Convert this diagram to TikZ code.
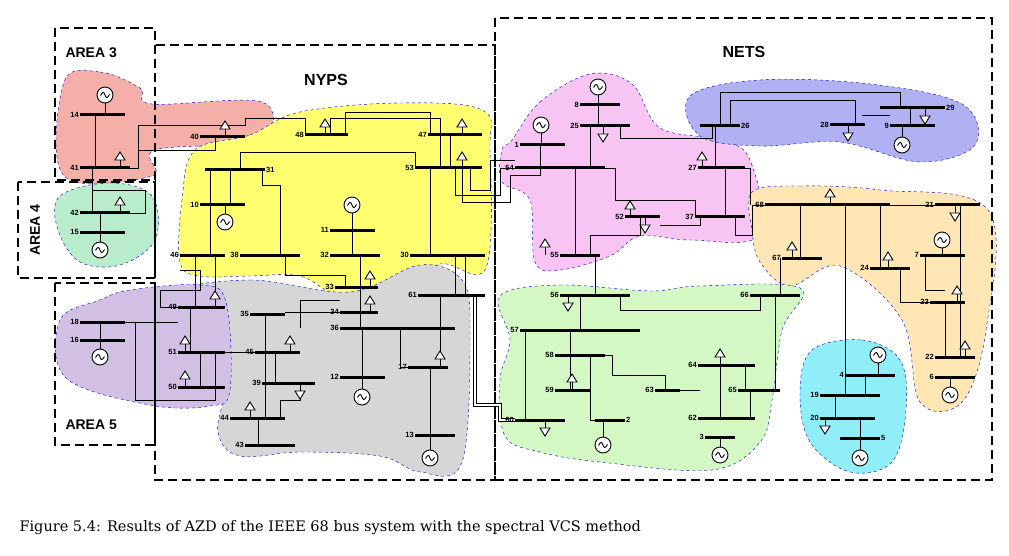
\documentclass[tikz,border=0pt]{standalone}
\usepackage{fontspec}
\newfontfamily\sansf{Liberation Sans}
\newfontfamily\capf{DejaVu Serif}
\begin{document}
\begin{tikzpicture}[x=1pt,y=-1pt,
 blob/.style={draw=blue!80!black,dashed,thin,fill=#1},
 area/.style={dashed,line width=1.6pt,dash pattern=on 9pt off 5pt},
 lbl/.style={font=\sansf\bfseries\fontsize{7.5}{8}\selectfont,inner sep=1pt},
 wire/.style={line width=0.9pt},
 bl/.style={line width=3pt}]
\useasboundingbox (0,0) rectangle (1009,556);
\newcommand\bs[4]{\draw[bl] (#1,#3)--(#2,#3); \node[lbl,anchor=east] at (#1,#3) {#4};}
\newcommand\bsr[4]{\draw[bl] (#1,#3)--(#2,#3); \node[lbl,anchor=west] at (#2,#3) {#4};}
\newcommand\gen[3]{\draw[wire] (#1,#3)--(#1,#2); \draw[wire,fill=white] (#1,#2) circle (8); \draw[wire] (#1-4.5,#2+0.5) .. controls (#1-2,#2-4) and (#1-1,#2-3) .. (#1,#2) .. controls (#1+1,#2+3) and (#1+2,#2+4) .. (#1+4.5,#2-0.5);}
\newcommand\lu[2]{\draw[wire] (#1,#2)--(#1,#2-8); \draw[wire,fill=white] (#1-5,#2-8)--(#1+5,#2-8)--(#1,#2-16)--cycle;}
\newcommand\ld[2]{\draw[wire] (#1,#2)--(#1,#2+8); \draw[wire,fill=white] (#1-5,#2+8)--(#1+5,#2+8)--(#1,#2+16)--cycle;}
\definecolor{cRed}{HTML}{F4B0A8}\definecolor{cYel}{HTML}{FFFF70}\definecolor{cGry}{HTML}{D6D6D6}
\definecolor{cVio}{HTML}{D2C0E4}\definecolor{cGrn}{HTML}{B8ECCB}\definecolor{cPnk}{HTML}{F8C4F4}
\definecolor{cBlu}{HTML}{B0B0F2}\definecolor{cOrg}{HTML}{FFE6B4}\definecolor{cLgr}{HTML}{D4F8C4}\definecolor{cCya}{HTML}{90EEF8}
% blobs
\draw[blob=cRed] plot[smooth cycle,tension=0.6] coordinates{(64,82)(100,72)(140,88)(152,104)(262,102)(258,140)(155,150)(152,176)(64,176)};
\draw[blob=cYel] plot[smooth cycle,tension=0.6] coordinates{(195,150)(250,135)(300,112)(400,103)(482,110)(490,150)(486,268)(440,264)(390,290)(340,296)(300,276)(250,276)(200,276)(180,262)(182,200)};
\draw[blob=cGry] plot[smooth cycle,tension=0.6] coordinates{(150,292)(250,280)(350,292)(420,265)(462,280)(470,330)(462,462)(420,472)(380,456)(300,452)(240,456)(218,432)(222,372)(165,302)};
\draw[blob=cVio] plot[smooth cycle,tension=0.6] coordinates{(130,290)(200,285)(226,302)(230,390)(210,406)(150,405)(66,378)(60,320)(100,300)};
\draw[blob=cGrn] plot[smooth cycle,tension=0.6] coordinates{(60,196)(110,183)(152,196)(155,240)(120,265)(80,262)(58,230)};
\draw[blob=cPnk] plot[smooth cycle,tension=0.6] coordinates{(512,140)(540,102)(590,74)(632,84)(660,128)(720,140)(750,160)(760,235)(690,240)(640,236)(610,256)(560,270)(535,262)(530,200)(502,182)(502,150)};
\draw[blob=cBlu] plot[smooth cycle,tension=0.6] coordinates{(690,96)(760,80)(870,84)(962,104)(975,145)(920,162)(840,142)(760,146)(700,136)};
\draw[blob=cOrg] plot[smooth cycle,tension=0.6] coordinates{(752,192)(800,186)(880,190)(988,210)(986,330)(962,402)(920,402)(902,320)(840,266)(790,286)(760,262)(752,230)};
\draw[blob=cLgr] plot[smooth cycle,tension=0.6] coordinates{(500,296)(560,285)(650,291)(700,286)(800,288)(782,330)(772,400)(760,442)(712,470)(600,462)(540,452)(505,436)(500,380)(510,340)};
\draw[blob=cCya] plot[smooth cycle,tension=0.6] coordinates{(812,350)(862,340)(900,360)(906,410)(892,462)(850,472)(810,442)(800,392)};
% area boxes
\draw[area] (55,28) rectangle (155,180);
\draw[area] (18,182) rectangle (155,278);
\draw[area] (55,283) rectangle (155,445);
\draw[area] (155,45) rectangle (495,480);
\draw[area] (495,18) rectangle (992,480);
\node[font=\sansf\bfseries\fontsize{14}{15}\selectfont,anchor=west] at (62,53) {AREA 3};
\node[font=\sansf\bfseries\fontsize{14}{15}\selectfont,rotate=90] at (35,230) {AREA 4};
\node[font=\sansf\bfseries\fontsize{14}{15}\selectfont,anchor=west] at (62,425) {AREA 5};
\node[font=\sansf\bfseries\fontsize{16}{17}\selectfont] at (326,80) {NYPS};
\node[font=\sansf\bfseries\fontsize{16}{17}\selectfont] at (744,52) {NETS};
% wires NYPS / west
\draw[wire] (95,115)--(95,168) (92,168)--(92,213) (100,213)--(100,232) (100,322)--(100,340);
\draw[wire] (130,168)--(138,168)--(138,125)--(245,125)--(245,118)--(305,118)--(305,135);
\draw[wire] (215,137)--(215,150)--(138,150);
\draw[wire] (330,135)--(330,118)--(440,118)--(440,135) (345,135)--(345,112)--(430,112)--(430,135);
\draw[wire] (440,135)--(440,168) (450,135)--(450,168);
\draw[wire] (455,168)--(455,195)--(500,195)--(500,168)--(515,168);
\draw[wire] (462,168)--(462,202)--(510,202)--(510,175)--(540,175)--(540,168);
\draw[wire] (470,168)--(470,190)--(490,190)--(490,160)--(515,160);
\draw[wire] (240,170)--(240,152)--(415,152)--(415,168);
\draw[wire] (230,170)--(230,205) (210,170)--(210,255) (262,170)--(262,185)--(280,185)--(280,255);
\draw[wire] (195,255)--(195,307) (215,255)--(215,295);
\draw[wire] (285,255)--(285,275)--(345,275)--(345,287) (352,230)--(352,255) (360,255)--(360,287);
\draw[wire] (430,168)--(430,255) (455,255)--(455,295) (465,255)--(465,295);
\draw[wire] (360,287)--(360,328) (440,295)--(440,328) (300,328)--(300,300)--(340,300) (265,314)--(265,352) (285,312)--(340,312);
\draw[wire] (440,328)--(440,367) (430,367)--(430,435) (362,328)--(362,377) (400,328)--(400,367)--(408,367);
\draw[wire] (225,352)--(255,352) (275,352)--(275,383) (265,352)--(265,418) (300,383)--(300,400)--(280,400)--(280,418) (258,418)--(258,445);
\draw[wire] (190,307)--(190,352) (200,352)--(200,387) (215,352)--(215,387) (125,322)--(178,322) (135,322)--(135,400)--(215,400)--(215,387);
\draw[wire] (130,213)--(145,213)--(145,190)--(92,190) (178,307)--(160,307)--(160,290)--(200,290)--(200,270)--(180,270);
\draw[wire,double,double distance=2pt] (475,295)--(475,405)--(500,405)--(500,420)--(515,420);
% NETS wires
\draw[wire] (598,105)--(598,126) (590,126)--(590,168) (540,145)--(540,168) (620,126)--(620,138)--(712,138)--(712,126);
\draw[wire] (715,126)--(715,168) (730,126)--(730,100)--(855,100)--(855,125) (720,126)--(720,92)--(900,92)--(900,108) (862,115)--(890,115) (910,108)--(910,126);
\draw[wire] (575,168)--(575,255) (725,168)--(725,217) (660,225)--(700,225)--(700,217) (735,217)--(735,235)--(752,235)--(752,205)--(765,205);
\draw[wire] (745,168)--(750,168)--(750,205) (890,205)--(935,205) (800,205)--(800,258) (845,205)--(845,395) (880,205)--(880,268) (780,258)--(780,295);
\draw[wire] (960,205)--(960,357) (900,268)--(900,302)--(930,302) (945,302)--(945,357) (925,255)--(925,290)--(945,290);
\draw[wire] (640,217)--(640,235)--(590,235)--(590,255) (595,255)--(595,295) (605,168)--(615,168)--(615,200)--(695,200)--(695,217);
\draw[wire] (580,295)--(580,330) (620,295)--(620,310)--(760,310)--(760,295) (525,330)--(525,420) (570,330)--(570,355) (570,355)--(570,390);
\draw[wire] (600,355)--(612,355)--(612,375)--(665,375)--(665,390) (590,355)--(590,420)--(600,420) (675,390)--(700,390);
\draw[wire] (745,365)--(745,390) (720,365)--(720,418) (750,390)--(750,418) (775,390)--(775,295) (835,395)--(835,418) (865,375)--(865,395) (860,418)--(860,438);
% buses
\bs{80}{125}{115}{14} \bs{80}{130}{168}{41} \bs{200}{245}{137}{40} \bs{305}{348}{135}{48}
\bs{428}{482}{135}{47} \bs{415}{482}{168}{53} \bsr{205}{265}{170}{31} \bs{200}{245}{205}{10}
\bs{330}{375}{230}{11} \bs{180}{225}{255}{46} \bs{240}{300}{255}{38} \bs{330}{380}{255}{32}
\bs{410}{485}{255}{30} \bs{335}{378}{287}{33} \bs{418}{485}{295}{61} \bs{340}{378}{312}{34}
\bs{340}{455}{328}{36} \bs{250}{285}{314}{35} \bs{255}{300}{352}{45} \bs{262}{315}{383}{39}
\bs{408}{448}{367}{17} \bs{340}{385}{377}{12} \bs{230}{285}{418}{44} \bs{245}{295}{445}{43}
\bs{415}{455}{435}{13} \bs{178}{225}{307}{49} \bs{178}{225}{352}{51} \bs{178}{225}{387}{50}
\bs{80}{125}{322}{18} \bs{80}{125}{340}{16} \bs{80}{130}{213}{42} \bs{80}{125}{232}{15}
\bs{580}{620}{105}{8} \bs{580}{630}{126}{25} \bs{520}{565}{145}{1} \bs{515}{605}{168}{54}
\bs{698}{745}{168}{27} \bsr{700}{740}{126}{26} \bs{830}{865}{125}{28} \bsr{880}{945}{108}{29}
\bs{890}{935}{126}{9} \bs{625}{660}{217}{52} \bs{695}{745}{217}{37} \bs{560}{600}{255}{55}
\bs{765}{890}{205}{68} \bs{935}{980}{205}{21} \bs{782}{822}{258}{67} \bs{870}{910}{268}{24}
\bs{920}{965}{255}{7} \bs{930}{965}{302}{23} \bs{935}{975}{357}{22} \bs{935}{975}{377}{6}
\bs{560}{630}{295}{56} \bs{750}{800}{295}{66} \bs{520}{640}{330}{57} \bs{555}{605}{355}{58}
\bs{555}{590}{390}{59} \bs{515}{565}{420}{60} \bsr{595}{625}{420}{2} \bs{655}{680}{390}{63}
\bs{698}{755}{365}{64} \bs{738}{780}{390}{65} \bs{698}{755}{418}{62} \bs{705}{735}{437}{3}
\bs{845}{895}{375}{4} \bs{820}{880}{395}{19} \bs{820}{875}{418}{20} \bsr{840}{880}{438}{5}
% generators
\gen{105}{95}{115} \gen{225}{222}{205} \gen{352}{205}{230} \gen{100}{357}{340} \gen{100}{250}{232}
\gen{362}{397}{377} \gen{430}{458}{435} \gen{598}{87}{105} \gen{541}{125}{145} \gen{902}{145}{126}
\gen{942}{240}{255} \gen{950}{395}{377} \gen{603}{445}{420} \gen{720}{455}{437} \gen{878}{355}{375} \gen{860}{458}{438}
% loads
\lu{120}{168} \lu{120}{213} \lu{225}{137} \lu{325}{135} \lu{462}{135} \lu{462}{168} \lu{215}{307} \lu{185}{352}
\lu{185}{387} \lu{290}{352} \lu{250}{418} \lu{370}{287} \lu{370}{312} \lu{440}{367} \lu{545}{255} \lu{702}{168}
\lu{830}{205} \lu{792}{258} \lu{888}{268} \lu{957}{302} \lu{965}{357} \lu{572}{390} \lu{720}{365} \lu{630}{217}
\ld{300}{383} \ld{603}{126} \ld{848}{125} \ld{925}{108} \ld{955}{205} \ld{645}{217} \ld{568}{295} \ld{545}{420} \ld{825}{418}
\node[anchor=west,font=\capf\fontsize{14.5}{17}\selectfont] at (16,528) {Figure 5.4: Results of AZD of the IEEE 68 bus system with the spectral VCS method};
\end{tikzpicture}
\end{document}
